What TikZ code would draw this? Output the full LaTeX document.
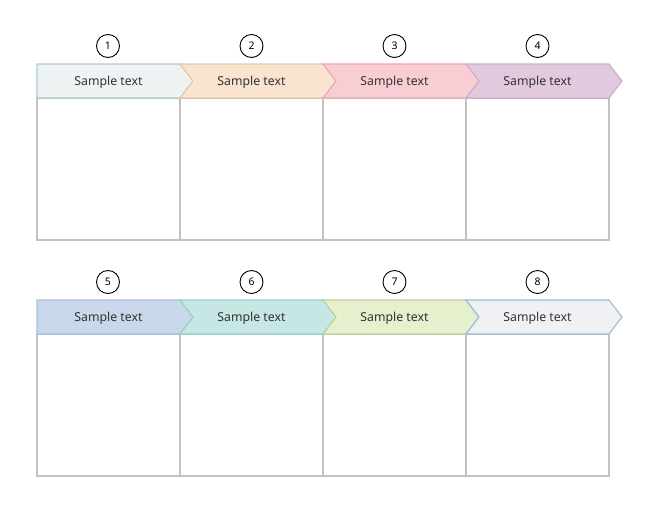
\documentclass[tikz,border=0pt]{standalone}
\usepackage{fontspec}
\setmainfont{Noto Sans}

\definecolor{fillone}{HTML}{EDF3F3}
\definecolor{lineone}{HTML}{AECBD2}
\definecolor{filltwo}{HTML}{F8E4CF}
\definecolor{linetwo}{HTML}{E6C8A8}
\definecolor{fillthree}{HTML}{F8CED4}
\definecolor{linethree}{HTML}{EAA9AF}
\definecolor{fillfour}{HTML}{E2CADE}
\definecolor{linefour}{HTML}{D3A9CE}
\definecolor{fillfive}{HTML}{C9D9EB}
\definecolor{linefive}{HTML}{A8C0D6}
\definecolor{fillsix}{HTML}{C6E7E3}
\definecolor{linesix}{HTML}{96D3CC}
\definecolor{fillseven}{HTML}{E5F0CD}
\definecolor{lineseven}{HTML}{BECE9C}
\definecolor{filleight}{HTML}{EFF1F4}
\definecolor{lineeight}{HTML}{A0B9D5}
\definecolor{cellgray}{HTML}{C2C2C2}
\definecolor{textgray}{HTML}{333333}

\tikzset{
  cell/.style={draw=cellgray, line width=1.4pt},
  header/.style={line width=1.1pt, line join=miter},
  label/.style={text=textgray, font=\fontsize{12.3}{14}\selectfont, inner sep=0pt, anchor=base},
  number/.style={circle, draw=black, line width=0.9pt, minimum size=23pt, inner sep=0pt,
                 font=\fontsize{10.5}{12}\selectfont}
}

\begin{document}
\begin{tikzpicture}[x=1pt, y=-1pt]
            \useasboundingbox (0,0) rectangle (652,511);

            % cells, first row
            \draw[cell] (37,98) rectangle (180,240);
            \draw[cell] (180,98) rectangle (323,240);
            \draw[cell] (323,98) rectangle (466,240);
            \draw[cell] (466,98) rectangle (609,240);

            % cells, second row
            \draw[cell] (37,334) rectangle (180,476);
            \draw[cell] (180,334) rectangle (323,476);
            \draw[cell] (323,334) rectangle (466,476);
            \draw[cell] (466,334) rectangle (609,476);

            % headers, first row
            \filldraw[header, fill=fillone, draw=lineone] (37,64) -- (180,64) -- (193,81) -- (180,98) -- (37,98) -- cycle;
            \filldraw[header, fill=filltwo, draw=linetwo] (180,64) -- (323,64) -- (336,81) -- (323,98) -- (180,98) -- (193,81) -- cycle;
            \filldraw[header, fill=fillthree, draw=linethree] (323,64) -- (466,64) -- (479,81) -- (466,98) -- (323,98) -- (336,81) -- cycle;
            \filldraw[header, fill=fillfour, draw=linefour] (466,64) -- (609,64) -- (622,81) -- (609,98) -- (466,98) -- (479,81) -- cycle;

            % headers, second row
            \filldraw[header, fill=fillfive, draw=linefive] (37,300) -- (180,300) -- (193,317) -- (180,334) -- (37,334) -- cycle;
            \filldraw[header, fill=fillsix, draw=linesix] (180,300) -- (323,300) -- (336,317) -- (323,334) -- (180,334) -- (193,317) -- cycle;
            \filldraw[header, fill=fillseven, draw=lineseven] (323,300) -- (466,300) -- (479,317) -- (466,334) -- (323,334) -- (336,317) -- cycle;
            \filldraw[header, fill=filleight, draw=lineeight] (466,300) -- (609,300) -- (622,317) -- (609,334) -- (466,334) -- (479,317) -- cycle;

            % header texts
            \node[label] (textone) at (108.5,85.5) {Sample text};
            \node[label] (texttwo) at (251.5,85.5) {Sample text};
            \node[label] (textthree) at (394.5,85.5) {Sample text};
            \node[label] (textfour) at (537.5,85.5) {Sample text};
            \node[label] (textfive) at (108.5,321.5) {Sample text};
            \node[label] (textsix) at (251.5,321.5) {Sample text};
            \node[label] (textseven) at (394.5,321.5) {Sample text};
            \node[label] (texteight) at (537.5,321.5) {Sample text};

            % step numbers
            \node[number] (numone) at (108,46) {1};
            \node[number] (numtwo) at (251.5,46) {2};
            \node[number] (numthree) at (394.5,46) {3};
            \node[number] (numfour) at (537.5,46) {4};
            \node[number] (numfive) at (108,282) {5};
            \node[number] (numsix) at (251.5,282) {6};
            \node[number] (numseven) at (394.5,282) {7};
            \node[number] (numeight) at (537.5,282) {8};
\end{tikzpicture}
\end{document}
